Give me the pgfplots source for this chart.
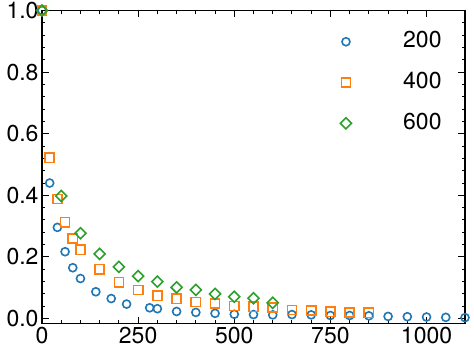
\documentclass[border=0pt]{standalone}
\usepackage{pgfplots}
\pgfplotsset{compat=1.18}
\usepackage{fontspec}
\setmainfont{TeX Gyre Heros}
\definecolor{tabblue}{HTML}{1F77B4}
\definecolor{taborange}{HTML}{FF7F0E}
\definecolor{tabgreen}{HTML}{2CA02C}
\newcommand{\bigfont}{\fontsize{23bp}{27bp}\selectfont}
\begin{document}
\begin{tikzpicture}
\begin{axis}[
  at={(0,0)}, anchor=south west,
  scale only axis, width=423bp, height=313bp,
  xmin=0, xmax=1100, ymin=-0.016, ymax=1.0,
  xtick={0,250,500,750,1000},
  ytick={0,0.2,0.4,0.6,0.8,1.0},
  minor x tick num=4, minor y tick num=4,
  tick align=inside, tick pos=both,
  major tick length=7bp, minor tick length=3.5bp,
  every tick/.style={black, line width=1bp},
  axis line style={line width=1.3bp},
  tick label style={font=\bigfont},
  /pgf/number format/assume math mode=true,
  /pgf/number format/1000 sep={},
  yticklabel style={/pgf/number format/.cd, fixed, fixed zerofill, precision=1},
  scaled ticks=false,
  clip=false,
  legend style={at={(0.945,0.934)}, anchor=north east, draw=none, fill=none,
    inner sep=0pt, row sep=23bp, column sep=0pt, font=\bigfont,
    nodes={inner sep=0pt}},
  legend image code/.code={\path (-6bp,0bp) (57bp,0bp); \draw[#1] plot coordinates {(0bp,-1.5bp)};},
]
\addplot[only marks, mark=o, mark size=4bp, draw=tabblue, mark options={line width=1.6bp}] coordinates {
(0,1.0) (20,0.44) (40,0.296) (60,0.217) (80,0.165) (100,0.13) (140,0.087) (180,0.065)
(220,0.047) (280,0.035) (300,0.032) (350,0.023) (400,0.02) (450,0.017) (500,0.014)
(550,0.013) (600,0.012) (650,0.013) (700,0.012) (750,0.010) (800,0.010) (850,0.009)
(900,0.007) (950,0.006) (1000,0.005) (1050,0.004) (1100,0.003)};
\addlegendentry{200}
\addplot[only marks, mark=square, mark size=4.6bp, draw=taborange, mark options={line width=1.6bp}] coordinates {
(0,1.0) (20,0.522) (40,0.388) (60,0.313) (80,0.26) (100,0.223) (150,0.16) (200,0.118)
(250,0.093) (300,0.074) (350,0.064) (400,0.054) (450,0.049) (500,0.041) (550,0.038)
(600,0.036) (650,0.028) (700,0.026) (750,0.022) (800,0.020) (850,0.019)};
\addlegendentry{400}
\addplot[only marks, mark=square, mark size=3.9bp, draw=tabgreen, mark options={line width=1.6bp, rotate=45}] coordinates {
(0,1.0) (50,0.398) (100,0.277) (150,0.21) (200,0.168) (250,0.138) (300,0.12)
(350,0.101) (400,0.093) (450,0.08) (500,0.071) (550,0.066) (600,0.051)};
\addlegendentry{600}
\end{axis}
\pgfresetboundingbox
\path[use as bounding box] (-42bp,-31.5bp) rectangle (432bp,323.5bp);
\end{tikzpicture}
\end{document}
